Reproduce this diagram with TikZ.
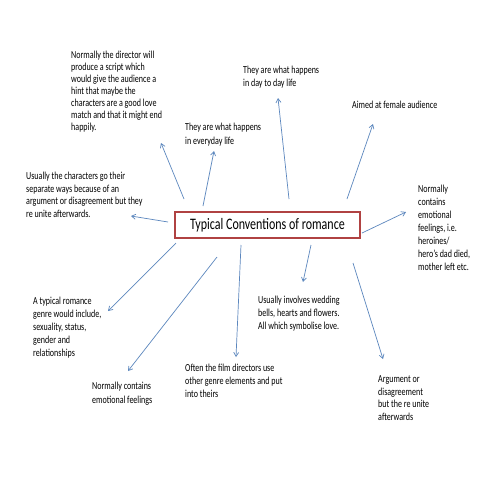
\documentclass[tikz,border=0pt]{standalone}
\usepackage{fontspec}
\setmainfont{Carlito}[FakeStretch=0.75]
\usetikzlibrary{arrows.meta}
\definecolor{arrowblue}{RGB}{92,135,190}
\definecolor{boxred}{RGB}{176,66,66}
\tikzset{
  note/.style={anchor=north west, inner sep=0pt, align=left, text=black,
    font=\fontsize{10.7}{13}\selectfont},
  conn/.style={draw=arrowblue, line width=0.7pt, -{Straight Barb[length=4pt,width=5pt]}},
  titlebox/.style={draw=boxred, line width=1.3pt, minimum width=185pt, minimum height=26pt,
    inner sep=0pt, font=\fontsize{16}{18}\selectfont, text=black},
}
\begin{document}
\begin{tikzpicture}[x=1pt,y=-1pt]
\useasboundingbox[fill=white] (0,0) rectangle (480,480);
\node[titlebox] (title) at (267.5,225) {Typical Conventions of romance};

\node[note, font=\fontsize{10.7}{12.05}\selectfont] (A) at (71,50.5) {Normally the director will\\produce a script which\\would give the audience a\\hint that maybe the\\characters are a good love\\match and that it might end\\happily.};
\node[note, font=\fontsize{10.7}{12.9}\selectfont] (B) at (26,171.5) {Usually the characters go their\\separate ways because of an\\argument or disagreement but they\\re unite afterwards.};
\node[note, font=\fontsize{10.7}{14}\selectfont] (C) at (185,122.5) {They are what happens\\in everyday life};
\node[note] (D) at (243,65.5) {They are what happens\\in day to day life};
\node[note] (E) at (352,101) {Aimed at female audience};
\node[note] (F) at (418,184.5) {Normally\\contains\\emotional\\feelings, i.e.\\heroines/\\hero’s dad died,\\mother left etc.};
\node[note] (G) at (33,296.5) {A typical romance\\genre would include,\\sexuality, status,\\gender and\\relationships};
\node[note, font=\fontsize{10.7}{14}\selectfont] (H) at (92,381.5) {Normally contains\\emotional feelings};
\node[note] (I) at (185,363.5) {Often the film directors use\\other genre elements and put\\into theirs};
\node[note] (J) at (258,295.5) {Usually involves wedding\\bells, hearts and flowers.\\All which symbolise love.};
\node[note, font=\fontsize{10.7}{12.5}\selectfont] (K) at (378,375.5) {Argument or\\disagreement\\but the re unite\\afterwards};

\coordinate (a0) at (184,199); \coordinate (a1) at (161,143);
\coordinate (c0) at (203,206); \coordinate (c1) at (214,151);
\coordinate (b0) at (168,222); \coordinate (b1) at (131,216);
\coordinate (d0) at (289,199); \coordinate (d1) at (278,98);
\coordinate (e0) at (347,199); \coordinate (e1) at (373,124);
\coordinate (f0) at (362,233); \coordinate (f1) at (406,212);
\coordinate (g0) at (176,243); \coordinate (g1) at (108,311);
\coordinate (h0) at (217,257); \coordinate (h1) at (128,371);
\coordinate (i0) at (241,245); \coordinate (i1) at (236,357);
\coordinate (j0) at (311,245); \coordinate (j1) at (303,282);
\coordinate (k0) at (353,263); \coordinate (k1) at (383,359);

\draw[conn] (a0) -- (a1);
\draw[conn] (c0) -- (c1);
\draw[conn] (b0) -- (b1);
\draw[conn] (d0) -- (d1);
\draw[conn] (e0) -- (e1);
\draw[conn] (f0) -- (f1);
\draw[conn] (g0) -- (g1);
\draw[conn] (h0) -- (h1);
\draw[conn] (i0) -- (i1);
\draw[conn] (j0) -- (j1);
\draw[conn] (k0) -- (k1);
\end{tikzpicture}
\end{document}
